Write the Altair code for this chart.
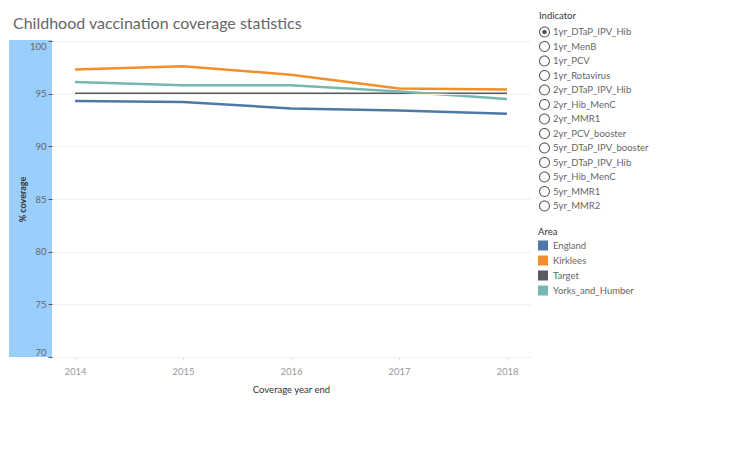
import altair as alt
import pandas as pd

years = ["2014", "2015", "2016", "2017", "2018"]
areas = ["England", "Kirklees", "Target", "Yorks_and_Humber"]
england = [94.3, 94.2, 93.6, 93.4, 93.1]
kirklees = [97.3, 97.6, 96.8, 95.5, 95.4]
target = [95.0, 95.0, 95.0, 95.0, 95.0]
yorks = [96.1, 95.8, 95.8, 95.2, 94.5]
area_colors = ["#4e79a7", "#f28e2b", "#59595f", "#76b7b2"]

indicators = [
    "1yr_DTaP_IPV_Hib", "1yr_MenB", "1yr_PCV", "1yr_Rotavirus",
    "2yr_DTaP_IPV_Hib", "2yr_Hib_MenC", "2yr_MMR1", "2yr_PCV_booster",
    "5yr_DTaP_IPV_booster", "5yr_DTaP_IPV_Hib", "5yr_Hib_MenC",
    "5yr_MMR1", "5yr_MMR2",
]
selected_indicator = "1yr_DTaP_IPV_Hib"

series = {"England": england, "Kirklees": kirklees, "Target": target,
          "Yorks_and_Humber": yorks}
rows = []
for a in areas:
    for y, v in zip(years, series[a]):
        rows.append({"Year": y, "Area": a, "Coverage": v})
df = pd.DataFrame(rows)

ind_df = pd.DataFrame({"Indicator": indicators,
                       "Year": [years[0]] * len(indicators),
                       "Coverage": [target[0]] * len(indicators)})

ring = ("M0,-1A1,1 0 1,1 0,1A1,1 0 1,1 0,-1Z"
        "M0,-0.82A0.82,0.82 0 1,0 0,0.82A0.82,0.82 0 1,0 0,-0.82Z")
dot = "M0,-0.42A0.42,0.42 0 1,1 0,0.42A0.42,0.42 0 1,1 0,-0.42Z"
shape_range = [ring + dot if i == selected_indicator else ring for i in indicators]

FONT = "Lato"
W, H = 478, 316

x_enc = alt.X("Year:O", title="Coverage year end",
              scale=alt.Scale(type="point", padding=0.213),
              axis=alt.Axis(labelAngle=0, labelColor="#999999", labelFontSize=9.5,
                            titleColor="#333333", titleFontSize=9.5,
                            titleFontWeight="normal", titlePadding=9,
                            domainColor="#e4e4e4", domainDash=[1, 2],
                            tickColor="#dddddd", tickSize=3, labelPadding=6,
                            grid=False))
y_enc = alt.Y("Coverage:Q", title="% coverage",
              scale=alt.Scale(domain=[70, 100], nice=False, zero=False),
              axis=alt.Axis(values=[70, 75, 80, 85, 90, 95, 100],
                            labelColor="#666666", labelFontSize=9.5,
                            labelFlush=True, labelFlushOffset=0,
                            tickColor="#555555", tickSize=4, labelPadding=2,
                            domain=False, gridColor="#f0f0f0",
                            titleColor="#333333", titleFontSize=9,
                            titleFontWeight="bold", titlePadding=2, zindex=1))

band = alt.Chart(pd.DataFrame({"k": [0]})).mark_rect(color="#9acffd").encode(
    x=alt.value(-43), x2=alt.value(0), y=alt.value(-1), y2=alt.value(H))

lines = alt.Chart(df).mark_line(strokeWidth=2.5).encode(
    x=x_enc, y=y_enc,
    color=alt.Color("Area:N", scale=alt.Scale(domain=areas, range=area_colors),
                    legend=None))

area_keys = alt.Chart(df).mark_square(opacity=0, size=100).encode(
    x="Year:O", y="Coverage:Q",
    fill=alt.Fill("Area:N", scale=alt.Scale(domain=areas, range=area_colors),
                  legend=alt.Legend(title="Area", orient="none",
                                    legendX=486, legendY=186,
                                    symbolType="square", symbolSize=100,
                                    symbolStrokeWidth=0, symbolOpacity=1,
                                    rowPadding=5,
                                    labelFontSize=9.5, labelColor="#666666",
                                    titleFontSize=9.5, titleColor="#333333",
                                    titleFontWeight="normal", titlePadding=4,
                                    labelOffset=5)))

radios = alt.Chart(ind_df).mark_point(filled=True, color="#555555", opacity=0,
                                      size=100).encode(
    x="Year:O", y="Coverage:Q",
    shape=alt.Shape("Indicator:N",
                    scale=alt.Scale(domain=indicators, range=shape_range),
                    legend=alt.Legend(title="Indicator", orient="none",
                                      legendX=487, legendY=-30,
                                      symbolSize=120, symbolOpacity=1,
                                      symbolFillColor="#555555",
                                      symbolStrokeWidth=0, rowPadding=3.5,
                                      labelFontSize=9.5, labelColor="#666666",
                                      titleFontSize=9.5, titleColor="#333333",
                                      titleFontWeight="normal", titlePadding=6,
                                      labelOffset=3, labelLimit=200)))

chart = alt.layer(band, lines, area_keys, radios).resolve_legend(
    fill="independent", shape="independent"
).properties(
    width=W, height=H,
    title=alt.TitleParams("Childhood vaccination coverage statistics",
                          anchor="start", frame="bounds", fontSize=16,
                          font=FONT, fontWeight="normal", color="#666666",
                          offset=-21, dx=4),
    padding={"left": 1, "top": 3, "right": 5, "bottom": 5},
).configure(font=FONT).configure_view(stroke=None)

chart.save("out.html", embed_options={"renderer": "svg", "actions": False})
